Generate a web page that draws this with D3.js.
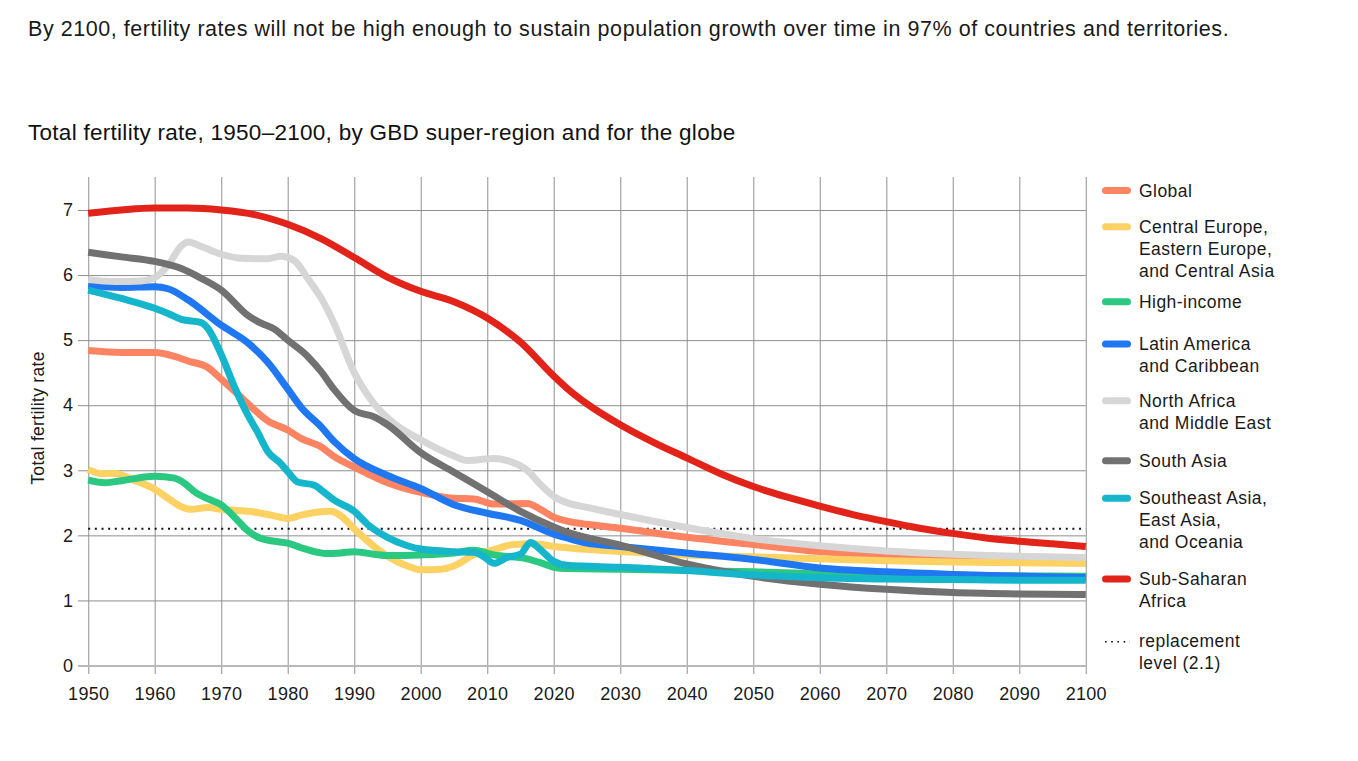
<!DOCTYPE html>
<html>
<head>
<meta charset="utf-8">
<script src="https://cdn.jsdelivr.net/npm/d3@7"></script>
<style>
    body { margin: 0; background: #fff; }
    svg { display: block; font-family: "Liberation Sans", Arial, sans-serif; }
</style>
</head>
<body>
<svg id="chart" width="1358" height="761"></svg>
<script>
// ---- data ----
const HEADLINE = 'By 2100, fertility rates will not be high enough to sustain population growth over time in 97% of countries and territories.';
const TITLE = 'Total fertility rate, 1950\u20132100, by GBD super-region and for the globe';
const Y_LABEL = 'Total fertility rate';

const X_TICKS = [1950, 1960, 1970, 1980, 1990, 2000, 2010, 2020, 2030, 2040, 2050, 2060, 2070, 2080, 2090, 2100];
const Y_TICKS = [0, 1, 2, 3, 4, 5, 6, 7];
const REPLACEMENT = 2.1;

const global = [
    [1950, 4.84], [1955, 4.81], [1960, 4.81], [1963, 4.75], [1965, 4.68], [1968, 4.58], [1970, 4.40],
    [1973, 4.12], [1975, 3.93], [1977, 3.76], [1980, 3.62], [1982, 3.49], [1985, 3.36], [1987, 3.21],
    [1990, 3.05], [1995, 2.81], [2000, 2.66], [2005, 2.57], [2008, 2.56], [2011, 2.48], [2016, 2.49],
    [2018, 2.40], [2020, 2.28], [2022, 2.22], [2025, 2.17], [2030, 2.11], [2040, 1.97], [2050, 1.86],
    [2060, 1.75], [2070, 1.68], [2080, 1.62], [2090, 1.59], [2100, 1.58],
];
const centralEurope = [
    [1950, 3.01], [1952, 2.95], [1954, 2.95], [1957, 2.84], [1960, 2.71], [1962, 2.57], [1964, 2.44],
    [1965.5, 2.40], [1968, 2.43], [1970, 2.40], [1975, 2.36], [1978, 2.30], [1980, 2.26], [1982, 2.31],
    [1984, 2.35], [1986.5, 2.37], [1988, 2.30], [1990, 2.10], [1993, 1.83], [1995, 1.68], [1998, 1.53],
    [2000, 1.47], [2003, 1.48], [2005, 1.53], [2008, 1.70], [2011, 1.78], [2014, 1.86], [2017, 1.87],
    [2020, 1.83], [2022, 1.81], [2030, 1.75], [2040, 1.70], [2050, 1.67], [2060, 1.64], [2070, 1.61],
    [2080, 1.59], [2090, 1.58], [2100, 1.57],
];
const highIncome = [
    [1950, 2.85], [1952.5, 2.81], [1955, 2.84], [1958, 2.89], [1960, 2.91], [1963, 2.88], [1964.5, 2.80],
    [1966, 2.67], [1968, 2.56], [1970, 2.47], [1972, 2.28], [1974, 2.07], [1976, 1.95], [1978, 1.91],
    [1980, 1.88], [1982, 1.81], [1984, 1.75], [1986, 1.72], [1988, 1.73], [1990, 1.75], [1993, 1.71],
    [1995, 1.69], [2000, 1.70], [2005, 1.73], [2008, 1.77], [2011, 1.70], [2016, 1.64], [2018, 1.58],
    [2020, 1.51], [2022, 1.49], [2030, 1.48], [2040, 1.46], [2050, 1.44], [2060, 1.41], [2070, 1.40],
    [2080, 1.39], [2090, 1.38], [2100, 1.37],
];
const latinAmerica = [
    [1950, 5.84], [1955, 5.81], [1960, 5.82], [1962, 5.79], [1965, 5.62], [1970, 5.23], [1974, 4.96],
    [1977, 4.66], [1980, 4.25], [1982, 3.97], [1985, 3.67], [1987, 3.44], [1990, 3.18], [1995, 2.92],
    [2000, 2.72], [2005, 2.47], [2010, 2.34], [2015, 2.23], [2020, 2.02], [2022, 1.96], [2025, 1.88],
    [2030, 1.83], [2040, 1.73], [2050, 1.63], [2060, 1.50], [2070, 1.44], [2080, 1.40], [2090, 1.37],
    [2100, 1.35],
];
const northAfrica = [
    [1950, 5.93], [1954, 5.90], [1958, 5.91], [1960, 5.96], [1962, 6.15], [1964, 6.45], [1965, 6.51],
    [1967, 6.44], [1970, 6.32], [1973, 6.26], [1977, 6.25], [1979, 6.29], [1981, 6.22], [1983, 5.95],
    [1985, 5.65], [1987, 5.25], [1990, 4.50], [1993, 4.02], [1996, 3.72], [2000, 3.47], [2005, 3.22],
    [2007, 3.15], [2011, 3.18], [2013, 3.15], [2016, 3.00], [2018, 2.78], [2020, 2.60], [2022, 2.50],
    [2025, 2.43], [2030, 2.32], [2040, 2.12], [2050, 1.95], [2060, 1.84], [2070, 1.76], [2080, 1.71],
    [2090, 1.68], [2100, 1.66],
];
const southAsia = [
    [1950, 6.35], [1955, 6.28], [1960, 6.21], [1964, 6.10], [1967, 5.95], [1970, 5.77], [1974, 5.38],
    [1976, 5.26], [1978, 5.17], [1980, 5.00], [1983, 4.75], [1985, 4.52], [1987, 4.24], [1990, 3.92],
    [1993, 3.82], [1995, 3.70], [2000, 3.27], [2005, 2.97], [2010, 2.67], [2015, 2.37], [2020, 2.13],
    [2022, 2.05], [2030, 1.85], [2040, 1.56], [2050, 1.37], [2060, 1.25], [2070, 1.17], [2080, 1.12],
    [2090, 1.10], [2100, 1.09],
];
const southeastAsia = [
    [1950, 5.77], [1955, 5.64], [1960, 5.49], [1962, 5.41], [1964, 5.32], [1967, 5.27], [1968, 5.18],
    [1970, 4.78], [1972, 4.28], [1974, 3.85], [1975.5, 3.58], [1977, 3.29], [1979, 3.10], [1980, 2.98],
    [1981.5, 2.82], [1984, 2.77], [1985, 2.70], [1987, 2.54], [1990, 2.37], [1992, 2.17], [1995, 1.97],
    [1998, 1.84], [2000, 1.79], [2005, 1.75], [2008, 1.74], [2009.5, 1.67], [2011, 1.57], [2013, 1.66],
    [2015, 1.71], [2016.5, 1.89], [2018, 1.78], [2020, 1.60], [2022, 1.54], [2030, 1.51], [2040, 1.46],
    [2050, 1.39], [2060, 1.35], [2070, 1.33], [2080, 1.32], [2090, 1.31], [2100, 1.31],
];
const subSaharan = [
    [1950, 6.95], [1955, 7.00], [1960, 7.03], [1965, 7.03], [1970, 7.00], [1975, 6.93], [1980, 6.78],
    [1985, 6.56], [1990, 6.27], [1995, 5.97], [2000, 5.75], [2005, 5.59], [2010, 5.34], [2015, 4.97],
    [2020, 4.45], [2022, 4.26], [2025, 4.02], [2030, 3.70], [2035, 3.43], [2040, 3.19], [2045, 2.95],
    [2050, 2.75], [2055, 2.59], [2060, 2.45], [2065, 2.32], [2070, 2.21], [2075, 2.11], [2080, 2.03],
    [2085, 1.96], [2090, 1.91], [2095, 1.87], [2100, 1.83],
];

// legend order = draw order
const SERIES = [
    { lines: ['Global'], values: global, color: '#fd8462' },
    { lines: ['Central Europe,', 'Eastern Europe,', 'and Central Asia'], values: centralEurope, color: '#fdd162' },
    { lines: ['High-income'], values: highIncome, color: '#2ac880' },
    { lines: ['Latin America', 'and Caribbean'], values: latinAmerica, color: '#1f77f2' },
    { lines: ['North Africa', 'and Middle East'], values: northAfrica, color: '#d6d6d6' },
    { lines: ['South Asia'], values: southAsia, color: '#717171' },
    { lines: ['Southeast Asia,', 'East Asia,', 'and Oceania'], values: southeastAsia, color: '#15b5cb' },
    { lines: ['Sub-Saharan', 'Africa'], values: subSaharan, color: '#e2231a' },
];
const REPLACEMENT_LINES = ['replacement', 'level (2.1)'];

// ---- layout ----
const plot = { left: 88.2, right: 1085.8, top: 210, bottom: 665.5 };
const gridLeft = 78, gridTop = 177, gridBottom = 674;
// first-line baselines of legend entries (last one is the replacement entry)
const legendBaselines = [196.5, 232.7, 307.7, 350, 406.7, 466.7, 504.3, 585, 646.7];
const textColor = '#1a1a1a';

const svg = d3.select('#chart');

svg.append('text')
    .attr('x', 28).attr('y', 36)
    .attr('font-size', 21.5).attr('letter-spacing', 0.55).attr('fill', textColor)
    .text(HEADLINE);

svg.append('text')
    .attr('x', 28).attr('y', 140)
    .attr('font-size', 22.5).attr('letter-spacing', 0.28).attr('fill', '#111')
    .text(TITLE);

const x = d3.scaleLinear().domain([1950, 2100]).range([plot.left, plot.right]);
const y = d3.scaleLinear().domain([0, 7]).range([plot.bottom, plot.top]);

// Vertical grid + year labels
const xAxis = svg.append('g')
    .attr('transform', `translate(0,${gridBottom})`)
    .call(d3.axisBottom(x).tickValues(X_TICKS).tickFormat(d3.format('d'))
        .tickSize(-(gridBottom - gridTop)).tickPadding(13));
xAxis.select('.domain').remove();
xAxis.selectAll('line').attr('stroke', '#a3a3a3').attr('stroke-width', 1.2);
xAxis.selectAll('text').attr('font-size', 18).attr('letter-spacing', 0.3).attr('fill', textColor)
    .attr('font-family', '"Liberation Sans", Arial, sans-serif');

// Horizontal grid + value labels
const yAxis = svg.append('g')
    .attr('transform', `translate(${gridLeft},0)`)
    .call(d3.axisLeft(y).tickValues(Y_TICKS).tickFormat(d3.format('d'))
        .tickSize(-(plot.right - gridLeft)).tickPadding(5));
yAxis.select('.domain').remove();
yAxis.selectAll('line')
    .attr('stroke', d => d === 0 ? '#b8b8b8' : '#8f8f8f')
    .attr('stroke-width', d => d === 0 ? 2 : 1);
yAxis.selectAll('text').attr('font-size', 18).attr('fill', textColor)
    .attr('font-family', '"Liberation Sans", Arial, sans-serif');

svg.append('text')
    .attr('transform', `translate(44,418) rotate(-90)`)
    .attr('text-anchor', 'middle')
    .attr('font-size', 17.5).attr('letter-spacing', 0.3).attr('fill', textColor)
    .text(Y_LABEL);

// Replacement level
svg.append('line')
    .attr('x1', x(1950)).attr('x2', x(2100))
    .attr('y1', y(REPLACEMENT)).attr('y2', y(REPLACEMENT))
    .attr('stroke', '#111').attr('stroke-width', 2)
    .attr('stroke-dasharray', '2,4.65');

// Series
const line = d3.line()
    .x(d => x(d[0]))
    .y(d => y(d[1]))
    .curve(d3.curveMonotoneX);

svg.append('g').selectAll('path')
    .data(SERIES)
    .join('path')
    .attr('d', d => line(d.values))
    .attr('fill', 'none')
    .attr('stroke', d => d.color)
    .attr('stroke-width', 7)
    .attr('stroke-linejoin', 'round');

// Legend
const legend = svg.append('g')
    .attr('font-size', 17.5).attr('letter-spacing', 0.45).attr('fill', textColor);
SERIES.forEach((s, i) => {
    const by = legendBaselines[i];
    legend.append('line')
        .attr('x1', 1105.5).attr('x2', 1127.5)
        .attr('y1', by - 6).attr('y2', by - 6)
        .attr('stroke', s.color).attr('stroke-width', 7)
        .attr('stroke-linecap', 'round');
    const t = legend.append('text').attr('x', 1139).attr('y', by);
    s.lines.forEach((ln, k) => {
        t.append('tspan').attr('x', 1139).attr('y', by + k * 22).text(ln);
    });
});
const rb = legendBaselines[SERIES.length];
legend.append('line')
    .attr('x1', 1105).attr('x2', 1130)
    .attr('y1', rb - 5).attr('y2', rb - 5)
    .attr('stroke', '#111').attr('stroke-width', 1.6)
    .attr('stroke-dasharray', '1.6,4.6');
const rt = legend.append('text').attr('x', 1139).attr('y', rb);
REPLACEMENT_LINES.forEach((ln, k) => {
    rt.append('tspan').attr('x', 1139).attr('y', rb + k * 22).text(ln);
});
</script>
</body>
</html>
